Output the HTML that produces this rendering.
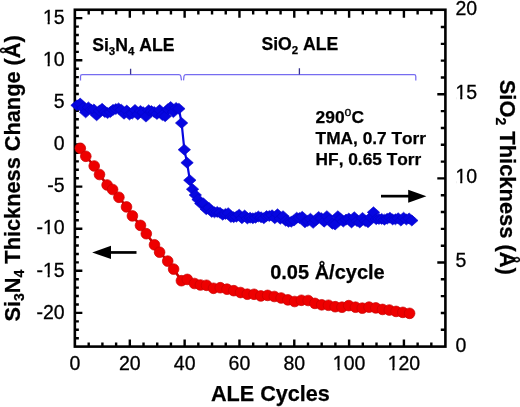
<!DOCTYPE html>
<html><head><meta charset="utf-8"><style>html,body{margin:0;padding:0;background:#fff;width:520px;height:407px;overflow:hidden}text{font-kerning:none}svg{display:block}</style></head><body>
<svg width="520" height="407" viewBox="0 0 520 407">
<rect width="520" height="407" fill="#fff"/>
<rect x="74.85" y="9.75" width="370.55" height="336.85" fill="none" stroke="#000" stroke-width="2.6"/>
<path fill="none" stroke="#000" stroke-width="2.4" d="M88.7 346.6V342.6M88.7 9.75V14.45M102.41 346.6V342.6M102.41 9.75V14.45M116.12 346.6V342.6M116.12 9.75V14.45M129.82 346.6V339.5M129.82 9.75V17.65M143.53 346.6V342.6M143.53 9.75V14.45M157.23 346.6V342.6M157.23 9.75V14.45M170.94 346.6V342.6M170.94 9.75V14.45M184.64 346.6V339.5M184.64 9.75V17.65M198.34 346.6V342.6M198.34 9.75V14.45M212.05 346.6V342.6M212.05 9.75V14.45M225.75 346.6V342.6M225.75 9.75V14.45M239.46 346.6V339.5M239.46 9.75V17.65M253.17 346.6V342.6M253.17 9.75V14.45M266.87 346.6V342.6M266.87 9.75V14.45M280.58 346.6V342.6M280.58 9.75V14.45M294.28 346.6V339.5M294.28 9.75V17.65M307.99 346.6V342.6M307.99 9.75V14.45M321.69 346.6V342.6M321.69 9.75V14.45M335.39 346.6V342.6M335.39 9.75V14.45M349.1 346.6V339.5M349.1 9.75V17.65M362.81 346.6V342.6M362.81 9.75V14.45M376.51 346.6V342.6M376.51 9.75V14.45M390.22 346.6V342.6M390.22 9.75V14.45M403.92 346.6V339.5M403.92 9.75V17.65M417.62 346.6V342.6M417.62 9.75V14.45M431.33 346.6V342.6M431.33 9.75V14.45M74.85 338.18H78.85M74.85 329.76H78.85M74.85 321.34H78.85M74.85 312.92H82.35M74.85 304.49H78.85M74.85 296.07H78.85M74.85 287.65H78.85M74.85 279.23H78.85M74.85 270.81H82.35M74.85 262.39H78.85M74.85 253.97H78.85M74.85 245.55H78.85M74.85 237.12H78.85M74.85 228.7H82.35M74.85 220.28H78.85M74.85 211.86H78.85M74.85 203.44H78.85M74.85 195.02H78.85M74.85 186.6H82.35M74.85 178.18H78.85M74.85 169.75H78.85M74.85 161.33H78.85M74.85 152.91H78.85M74.85 144.49H82.35M74.85 136.07H78.85M74.85 127.65H78.85M74.85 119.23H78.85M74.85 110.81H78.85M74.85 102.38H82.35M74.85 93.96H78.85M74.85 85.54H78.85M74.85 77.12H78.85M74.85 68.7H78.85M74.85 60.28H82.35M74.85 51.86H78.85M74.85 43.44H78.85M74.85 35.01H78.85M74.85 26.59H78.85M74.85 18.17H82.35M445.4 329.78H440.8M445.4 312.96H440.8M445.4 296.14H440.8M445.4 279.32H440.8M445.4 262.5H437.3M445.4 245.68H440.8M445.4 228.86H440.8M445.4 212.04H440.8M445.4 195.22H440.8M445.4 178.4H437.3M445.4 161.58H440.8M445.4 144.76H440.8M445.4 127.94H440.8M445.4 111.12H440.8M445.4 94.3H437.3M445.4 77.48H440.8M445.4 60.66H440.8M445.4 43.84H440.8M445.4 27.02H440.8"/>
<g fill="none" stroke="#766cf0" stroke-width="1.25">
<path d="M80.5 80.4 V76.4 Q80.5 74.7 82.2 74.7 H179 Q180.4 74.7 180.8 76.2 L181.5 80.4"/>
<path d="M183.5 80.4 L184 76.2 Q184.4 74.7 185.8 74.7 H414.2 Q415.8 74.7 415.8 76.4 V80.4"/>
</g>
<g stroke="#3a3490" stroke-width="1.3"><path d="M130.6 68.8 V74.5 M299.4 68.3 V74.5"/></g>
<polyline fill="none" stroke="#c80000" stroke-width="2.6" points="80.3,148.3 85.8,156.3 94.2,166 99.5,174.5 107.1,185 112.6,189.5 118.9,197.3 126.5,206.9 132.4,215.9 140.5,225.4 146.3,233.7 154.5,244.8 159.6,252.2 167.7,261.1 173.6,269.1 181.4,280.7 187.3,279.4 194.5,283.5 200.4,285 206.5,285.3 213.5,288.3 220.26,287.72 227.02,289.17 233.79,290.68 240.55,292.53 247.31,294.2 254.07,294.29 260.83,295.95 267.6,295.39 274.36,296.49 281.12,298.02 287.88,299.85 294.64,301.52 301.41,300.29 308.17,300.49 314.93,303.37 321.69,304.81 328.46,305.27 335.22,306.72 341.98,307.22 348.74,305.62 355.5,307.2 362.27,308.17 369.03,307.1 375.79,307.89 382.55,309.42 389.31,310.05 396.08,311.4 402.84,312.36 409.6,313.35"/>
<g fill="#ee0000" stroke="#c80000" stroke-width="0.7">
<circle cx="80.3" cy="148.3" r="5.35"/>
<circle cx="85.8" cy="156.3" r="5.35"/>
<circle cx="94.2" cy="166" r="5.35"/>
<circle cx="99.5" cy="174.5" r="5.35"/>
<circle cx="107.1" cy="185" r="5.35"/>
<circle cx="112.6" cy="189.5" r="5.35"/>
<circle cx="118.9" cy="197.3" r="5.35"/>
<circle cx="126.5" cy="206.9" r="5.35"/>
<circle cx="132.4" cy="215.9" r="5.35"/>
<circle cx="140.5" cy="225.4" r="5.35"/>
<circle cx="146.3" cy="233.7" r="5.35"/>
<circle cx="154.5" cy="244.8" r="5.35"/>
<circle cx="159.6" cy="252.2" r="5.35"/>
<circle cx="167.7" cy="261.1" r="5.35"/>
<circle cx="173.6" cy="269.1" r="5.35"/>
<circle cx="181.4" cy="280.7" r="5.35"/>
<circle cx="187.3" cy="279.4" r="5.35"/>
<circle cx="194.5" cy="283.5" r="5.35"/>
<circle cx="200.4" cy="285" r="5.35"/>
<circle cx="206.5" cy="285.3" r="5.35"/>
<circle cx="213.5" cy="288.3" r="5.35"/>
<circle cx="220.26" cy="287.72" r="5.35"/>
<circle cx="227.02" cy="289.17" r="5.35"/>
<circle cx="233.79" cy="290.68" r="5.35"/>
<circle cx="240.55" cy="292.53" r="5.35"/>
<circle cx="247.31" cy="294.2" r="5.35"/>
<circle cx="254.07" cy="294.29" r="5.35"/>
<circle cx="260.83" cy="295.95" r="5.35"/>
<circle cx="267.6" cy="295.39" r="5.35"/>
<circle cx="274.36" cy="296.49" r="5.35"/>
<circle cx="281.12" cy="298.02" r="5.35"/>
<circle cx="287.88" cy="299.85" r="5.35"/>
<circle cx="294.64" cy="301.52" r="5.35"/>
<circle cx="301.41" cy="300.29" r="5.35"/>
<circle cx="308.17" cy="300.49" r="5.35"/>
<circle cx="314.93" cy="303.37" r="5.35"/>
<circle cx="321.69" cy="304.81" r="5.35"/>
<circle cx="328.46" cy="305.27" r="5.35"/>
<circle cx="335.22" cy="306.72" r="5.35"/>
<circle cx="341.98" cy="307.22" r="5.35"/>
<circle cx="348.74" cy="305.62" r="5.35"/>
<circle cx="355.5" cy="307.2" r="5.35"/>
<circle cx="362.27" cy="308.17" r="5.35"/>
<circle cx="369.03" cy="307.1" r="5.35"/>
<circle cx="375.79" cy="307.89" r="5.35"/>
<circle cx="382.55" cy="309.42" r="5.35"/>
<circle cx="389.31" cy="310.05" r="5.35"/>
<circle cx="396.08" cy="311.4" r="5.35"/>
<circle cx="402.84" cy="312.36" r="5.35"/>
<circle cx="409.6" cy="313.35" r="5.35"/>
</g>
<polyline fill="none" stroke="#0606e0" stroke-width="2.2" points="77,105.32 80.18,103.61 82.92,107.98 85.66,112.35 88.41,107.43 91.15,109.74 93.89,109.45 96.63,115.24 99.37,110.77 102.11,108.83 104.85,112.01 107.59,113.09 110.33,112.05 113.07,109.85 115.82,109.06 118.56,108.39 121.3,109.73 124.04,113.71 126.78,110.61 129.52,114.5 132.26,113.6 135,109.94 137.74,114.39 140.48,110.94 143.22,112.23 145.97,116.58 148.71,110.2 151.45,111.12 154.19,112.04 156.93,113.96 159.67,110.01 162.41,115.1 165.15,116.24 167.89,109.21 170.63,107.05 173.38,112.12 176.12,107.93 178.86,108.67 181.6,123 184.34,149.7 187.08,162.7 189.82,180.2 192.56,189.2 195.3,195 198.04,199.5 200.79,203.51 203.53,203.51 206.27,209.19 209.01,207.91 211.75,211.89 214.49,212.35 217.23,211.95 219.97,212.77 222.71,214.76 225.45,213.9 228.2,213.15 230.94,217.04 233.68,217.17 236.42,216.63 239.16,214.65 241.9,218.2 244.64,215.52 247.38,218.45 250.12,217.74 252.87,218.28 255.61,217.7 258.35,216.48 261.09,217.3 263.83,218.25 266.57,216.1 269.31,216.06 272.05,215.28 274.79,218.22 277.53,214.28 280.28,218.77 283.02,216.2 285.76,220.78 288.5,221.8 291.24,221.73 293.98,220.53 296.72,217.69 299.46,218 302.2,216.79 304.94,222.33 307.69,220.97 310.43,218.75 313.17,222.87 315.91,219.91 318.65,216.95 321.39,218.15 324.13,221.64 326.87,216.16 329.61,219.94 332.35,223.71 335.09,224.5 337.84,216.23 340.58,218.9 343.32,221.57 346.06,219.61 348.8,218.56 351.54,222.42 354.28,217.24 357.02,221.09 359.76,222.4 362.5,217.95 365.25,221.07 367.99,222.2 370.73,217.25 373.47,212.3 376.21,219.13 378.95,218.91 381.69,218.89 384.43,219.64 387.17,218.74 389.92,217.71 392.66,219.4 395.4,219.35 398.14,218.24 400.88,220.57 403.62,217.69 406.36,219.56 409.1,218.45 411.84,220.52"/>
<g fill="#0606e0" stroke="#0404c8" stroke-width="0.6">
<path d="M70.8 105.32L77 99.82L83.2 105.32L77 110.82Z"/>
<path d="M73.98 103.61L80.18 98.11L86.38 103.61L80.18 109.11Z"/>
<path d="M76.72 107.98L82.92 102.48L89.12 107.98L82.92 113.48Z"/>
<path d="M79.46 112.35L85.66 106.85L91.86 112.35L85.66 117.85Z"/>
<path d="M82.2 107.43L88.41 101.93L94.61 107.43L88.41 112.93Z"/>
<path d="M84.95 109.74L91.15 104.24L97.35 109.74L91.15 115.24Z"/>
<path d="M87.69 109.45L93.89 103.95L100.09 109.45L93.89 114.95Z"/>
<path d="M90.43 115.24L96.63 109.74L102.83 115.24L96.63 120.74Z"/>
<path d="M93.17 110.77L99.37 105.27L105.57 110.77L99.37 116.27Z"/>
<path d="M95.91 108.83L102.11 103.33L108.31 108.83L102.11 114.33Z"/>
<path d="M98.65 112.01L104.85 106.51L111.05 112.01L104.85 117.51Z"/>
<path d="M101.39 113.09L107.59 107.59L113.79 113.09L107.59 118.59Z"/>
<path d="M104.13 112.05L110.33 106.55L116.53 112.05L110.33 117.55Z"/>
<path d="M106.87 109.85L113.07 104.35L119.27 109.85L113.07 115.35Z"/>
<path d="M109.62 109.06L115.82 103.56L122.02 109.06L115.82 114.56Z"/>
<path d="M112.36 108.39L118.56 102.89L124.76 108.39L118.56 113.89Z"/>
<path d="M115.1 109.73L121.3 104.23L127.5 109.73L121.3 115.23Z"/>
<path d="M117.84 113.71L124.04 108.21L130.24 113.71L124.04 119.21Z"/>
<path d="M120.58 110.61L126.78 105.11L132.98 110.61L126.78 116.11Z"/>
<path d="M123.32 114.5L129.52 109L135.72 114.5L129.52 120Z"/>
<path d="M126.06 113.6L132.26 108.1L138.46 113.6L132.26 119.1Z"/>
<path d="M128.8 109.94L135 104.44L141.2 109.94L135 115.44Z"/>
<path d="M131.54 114.39L137.74 108.89L143.94 114.39L137.74 119.89Z"/>
<path d="M134.28 110.94L140.48 105.44L146.68 110.94L140.48 116.44Z"/>
<path d="M137.03 112.23L143.22 106.73L149.42 112.23L143.22 117.73Z"/>
<path d="M139.77 116.58L145.97 111.08L152.17 116.58L145.97 122.08Z"/>
<path d="M142.51 110.2L148.71 104.7L154.91 110.2L148.71 115.7Z"/>
<path d="M145.25 111.12L151.45 105.62L157.65 111.12L151.45 116.62Z"/>
<path d="M147.99 112.04L154.19 106.54L160.39 112.04L154.19 117.54Z"/>
<path d="M150.73 113.96L156.93 108.46L163.13 113.96L156.93 119.46Z"/>
<path d="M153.47 110.01L159.67 104.51L165.87 110.01L159.67 115.51Z"/>
<path d="M156.21 115.1L162.41 109.6L168.61 115.1L162.41 120.6Z"/>
<path d="M158.95 116.24L165.15 110.74L171.35 116.24L165.15 121.74Z"/>
<path d="M161.69 109.21L167.89 103.71L174.09 109.21L167.89 114.71Z"/>
<path d="M164.44 107.05L170.63 101.55L176.83 107.05L170.63 112.55Z"/>
<path d="M167.18 112.12L173.38 106.62L179.58 112.12L173.38 117.62Z"/>
<path d="M169.92 107.93L176.12 102.43L182.32 107.93L176.12 113.43Z"/>
<path d="M172.66 108.67L178.86 103.17L185.06 108.67L178.86 114.17Z"/>
<path d="M175.4 123L181.6 117.5L187.8 123L181.6 128.5Z"/>
<path d="M178.14 149.7L184.34 144.2L190.54 149.7L184.34 155.2Z"/>
<path d="M180.88 162.7L187.08 157.2L193.28 162.7L187.08 168.2Z"/>
<path d="M183.62 180.2L189.82 174.7L196.02 180.2L189.82 185.7Z"/>
<path d="M186.36 189.2L192.56 183.7L198.76 189.2L192.56 194.7Z"/>
<path d="M189.1 195L195.3 189.5L201.5 195L195.3 200.5Z"/>
<path d="M191.84 199.5L198.04 194L204.24 199.5L198.04 205Z"/>
<path d="M194.59 203.51L200.79 198.01L206.99 203.51L200.79 209.01Z"/>
<path d="M197.33 203.51L203.53 198.01L209.73 203.51L203.53 209.01Z"/>
<path d="M200.07 209.19L206.27 203.69L212.47 209.19L206.27 214.69Z"/>
<path d="M202.81 207.91L209.01 202.41L215.21 207.91L209.01 213.41Z"/>
<path d="M205.55 211.89L211.75 206.39L217.95 211.89L211.75 217.39Z"/>
<path d="M208.29 212.35L214.49 206.85L220.69 212.35L214.49 217.85Z"/>
<path d="M211.03 211.95L217.23 206.45L223.43 211.95L217.23 217.45Z"/>
<path d="M213.77 212.77L219.97 207.27L226.17 212.77L219.97 218.27Z"/>
<path d="M216.51 214.76L222.71 209.26L228.91 214.76L222.71 220.26Z"/>
<path d="M219.25 213.9L225.45 208.4L231.65 213.9L225.45 219.4Z"/>
<path d="M222 213.15L228.2 207.65L234.4 213.15L228.2 218.65Z"/>
<path d="M224.74 217.04L230.94 211.54L237.14 217.04L230.94 222.54Z"/>
<path d="M227.48 217.17L233.68 211.67L239.88 217.17L233.68 222.67Z"/>
<path d="M230.22 216.63L236.42 211.13L242.62 216.63L236.42 222.13Z"/>
<path d="M232.96 214.65L239.16 209.15L245.36 214.65L239.16 220.15Z"/>
<path d="M235.7 218.2L241.9 212.7L248.1 218.2L241.9 223.7Z"/>
<path d="M238.44 215.52L244.64 210.02L250.84 215.52L244.64 221.02Z"/>
<path d="M241.18 218.45L247.38 212.95L253.58 218.45L247.38 223.95Z"/>
<path d="M243.92 217.74L250.12 212.24L256.32 217.74L250.12 223.24Z"/>
<path d="M246.67 218.28L252.87 212.78L259.06 218.28L252.87 223.78Z"/>
<path d="M249.41 217.7L255.61 212.2L261.81 217.7L255.61 223.2Z"/>
<path d="M252.15 216.48L258.35 210.98L264.55 216.48L258.35 221.98Z"/>
<path d="M254.89 217.3L261.09 211.8L267.29 217.3L261.09 222.8Z"/>
<path d="M257.63 218.25L263.83 212.75L270.03 218.25L263.83 223.75Z"/>
<path d="M260.37 216.1L266.57 210.6L272.77 216.1L266.57 221.6Z"/>
<path d="M263.11 216.06L269.31 210.56L275.51 216.06L269.31 221.56Z"/>
<path d="M265.85 215.28L272.05 209.78L278.25 215.28L272.05 220.78Z"/>
<path d="M268.59 218.22L274.79 212.72L280.99 218.22L274.79 223.72Z"/>
<path d="M271.33 214.28L277.53 208.78L283.73 214.28L277.53 219.78Z"/>
<path d="M274.08 218.77L280.28 213.27L286.48 218.77L280.28 224.27Z"/>
<path d="M276.82 216.2L283.02 210.7L289.22 216.2L283.02 221.7Z"/>
<path d="M279.56 220.78L285.76 215.28L291.96 220.78L285.76 226.28Z"/>
<path d="M282.3 221.8L288.5 216.3L294.7 221.8L288.5 227.3Z"/>
<path d="M285.04 221.73L291.24 216.23L297.44 221.73L291.24 227.23Z"/>
<path d="M287.78 220.53L293.98 215.03L300.18 220.53L293.98 226.03Z"/>
<path d="M290.52 217.69L296.72 212.19L302.92 217.69L296.72 223.19Z"/>
<path d="M293.26 218L299.46 212.5L305.66 218L299.46 223.5Z"/>
<path d="M296 216.79L302.2 211.29L308.4 216.79L302.2 222.29Z"/>
<path d="M298.74 222.33L304.94 216.83L311.14 222.33L304.94 227.83Z"/>
<path d="M301.49 220.97L307.69 215.47L313.88 220.97L307.69 226.47Z"/>
<path d="M304.23 218.75L310.43 213.25L316.63 218.75L310.43 224.25Z"/>
<path d="M306.97 222.87L313.17 217.37L319.37 222.87L313.17 228.37Z"/>
<path d="M309.71 219.91L315.91 214.41L322.11 219.91L315.91 225.41Z"/>
<path d="M312.45 216.95L318.65 211.45L324.85 216.95L318.65 222.45Z"/>
<path d="M315.19 218.15L321.39 212.65L327.59 218.15L321.39 223.65Z"/>
<path d="M317.93 221.64L324.13 216.14L330.33 221.64L324.13 227.14Z"/>
<path d="M320.67 216.16L326.87 210.66L333.07 216.16L326.87 221.66Z"/>
<path d="M323.41 219.94L329.61 214.44L335.81 219.94L329.61 225.44Z"/>
<path d="M326.15 223.71L332.35 218.21L338.55 223.71L332.35 229.21Z"/>
<path d="M328.89 224.5L335.09 219L341.29 224.5L335.09 230Z"/>
<path d="M331.64 216.23L337.84 210.73L344.04 216.23L337.84 221.73Z"/>
<path d="M334.38 218.9L340.58 213.4L346.78 218.9L340.58 224.4Z"/>
<path d="M337.12 221.57L343.32 216.07L349.52 221.57L343.32 227.07Z"/>
<path d="M339.86 219.61L346.06 214.11L352.26 219.61L346.06 225.11Z"/>
<path d="M342.6 218.56L348.8 213.06L355 218.56L348.8 224.06Z"/>
<path d="M345.34 222.42L351.54 216.92L357.74 222.42L351.54 227.92Z"/>
<path d="M348.08 217.24L354.28 211.74L360.48 217.24L354.28 222.74Z"/>
<path d="M350.82 221.09L357.02 215.59L363.22 221.09L357.02 226.59Z"/>
<path d="M353.56 222.4L359.76 216.9L365.96 222.4L359.76 227.9Z"/>
<path d="M356.31 217.95L362.5 212.45L368.7 217.95L362.5 223.45Z"/>
<path d="M359.05 221.07L365.25 215.57L371.45 221.07L365.25 226.57Z"/>
<path d="M361.79 222.2L367.99 216.7L374.19 222.2L367.99 227.7Z"/>
<path d="M364.53 217.25L370.73 211.75L376.93 217.25L370.73 222.75Z"/>
<path d="M367.27 212.3L373.47 206.8L379.67 212.3L373.47 217.8Z"/>
<path d="M370.01 219.13L376.21 213.63L382.41 219.13L376.21 224.63Z"/>
<path d="M372.75 218.91L378.95 213.41L385.15 218.91L378.95 224.41Z"/>
<path d="M375.49 218.89L381.69 213.39L387.89 218.89L381.69 224.39Z"/>
<path d="M378.23 219.64L384.43 214.14L390.63 219.64L384.43 225.14Z"/>
<path d="M380.97 218.74L387.17 213.24L393.37 218.74L387.17 224.24Z"/>
<path d="M383.72 217.71L389.92 212.21L396.12 217.71L389.92 223.21Z"/>
<path d="M386.46 219.4L392.66 213.9L398.86 219.4L392.66 224.9Z"/>
<path d="M389.2 219.35L395.4 213.85L401.6 219.35L395.4 224.85Z"/>
<path d="M391.94 218.24L398.14 212.74L404.34 218.24L398.14 223.74Z"/>
<path d="M394.68 220.57L400.88 215.07L407.08 220.57L400.88 226.07Z"/>
<path d="M397.42 217.69L403.62 212.19L409.82 217.69L403.62 223.19Z"/>
<path d="M400.16 219.56L406.36 214.06L412.56 219.56L406.36 225.06Z"/>
<path d="M402.9 218.45L409.1 212.95L415.3 218.45L409.1 223.95Z"/>
<path d="M405.64 220.52L411.84 215.02L418.04 220.52L411.84 226.02Z"/>
</g>
<defs><clipPath id="nf"><path clip-rule="evenodd" d="M0 0H520V407H0ZM43.77 21.11H47.66V25.37H43.77ZM49.69 21.11H53.38V25.37H49.69ZM43.77 63.22H47.66V67.48H43.77ZM49.69 63.22H53.38V67.48H49.69ZM43.77 231.65H47.66V235.9H43.77ZM49.69 231.65H53.38V235.9H49.69ZM43.77 273.75H47.66V278.01H43.77ZM49.69 273.75H53.38V278.01H49.69ZM456.36 96.44H460.25V100.7H456.36ZM462.28 96.44H465.97V100.7H462.28ZM456.36 180.54H460.25V184.8H456.36ZM462.28 180.54H465.97V184.8H462.28ZM333.69 367.24H337.59V371.5H333.69ZM339.61 367.24H343.31V371.5H339.61ZM388.51 367.24H392.41V371.5H388.51ZM394.43 367.24H398.13V371.5H394.43Z"/></clipPath></defs>
<g font-family="Liberation Sans, Arial, sans-serif" font-size="19.5" fill="#000" stroke="#000" stroke-width="0.3" clip-path="url(#nf)">
<text x="64.6" y="23.87" text-anchor="end">15</text>
<text x="64.6" y="65.98" text-anchor="end">10</text>
<text x="64.6" y="108.08" text-anchor="end">5</text>
<text x="64.6" y="150.19" text-anchor="end">0</text>
<text x="64.6" y="192.3" text-anchor="end">-5</text>
<text x="64.6" y="234.4" text-anchor="end">-10</text>
<text x="64.6" y="276.51" text-anchor="end">-15</text>
<text x="64.6" y="318.62" text-anchor="end">-20</text>
<text x="455.5" y="15.1">20</text>
<text x="455.5" y="99.2">15</text>
<text x="455.5" y="183.3">10</text>
<text x="455.5" y="267.4">5</text>
<text x="455.5" y="351.5">0</text>
<text x="75" y="370" text-anchor="middle">0</text>
<text x="129.82" y="370" text-anchor="middle">20</text>
<text x="184.64" y="370" text-anchor="middle">40</text>
<text x="239.46" y="370" text-anchor="middle">60</text>
<text x="294.28" y="370" text-anchor="middle">80</text>
<text x="349.1" y="370" text-anchor="middle">100</text>
<text x="403.92" y="370" text-anchor="middle">120</text>
</g>
<g font-family="Liberation Sans, Arial, sans-serif" font-weight="bold" fill="#000" stroke="#000" stroke-width="0.25">
<text x="270.4" y="401" font-size="21.6" text-anchor="middle">ALE Cycles</text>
<text transform="translate(19.8 178.4) rotate(-90)" font-size="21.75" text-anchor="middle">Si<tspan font-size="14" dy="4">3</tspan><tspan dy="-4">N</tspan><tspan font-size="14" dy="4">4</tspan><tspan dy="-4"> Thickness Change (Å)</tspan></text>
<text transform="translate(499.7 177.3) rotate(90)" font-size="21.9" text-anchor="middle">SiO<tspan font-size="14" dy="4">2</tspan><tspan dy="-4"> Thickness (Å)</tspan></text>
<text x="92.2" y="50.8" font-size="17.6">Si<tspan font-size="11.5" dy="3.8">3</tspan><tspan dy="-3.8">N</tspan><tspan font-size="11.5" dy="3.8">4</tspan><tspan dy="-3.8"> ALE</tspan></text>
<text x="261.5" y="50.2" font-size="17.6">SiO<tspan font-size="11.5" dy="3.8">2</tspan><tspan dy="-3.8"> ALE</tspan></text>
<text x="315.6" y="123.2" font-size="17.4">290<tspan font-size="12.2" dy="-7.6" font-weight="normal" stroke-width="0.35">o</tspan><tspan dy="7.6">C</tspan></text>
<text x="315.6" y="144.0" font-size="17.3">TMA, 0.7 Torr</text>
<text x="315.6" y="164.7" font-size="17.3">HF, 0.65 Torr</text>
<text x="270.2" y="279.3" font-size="20">0.05 Å/cycle</text>
</g>
<g fill="#000" stroke="none">
<path d="M108 251.1H136.5V253.8H108Z"/>
<path d="M92.2 252.5L111 245.8V259.1Z"/>
<path d="M381 194.8H411V197.5H381Z"/>
<path d="M426.4 196.2L408.2 189.8V202.8Z"/>
</g>
</svg>
</body></html>
